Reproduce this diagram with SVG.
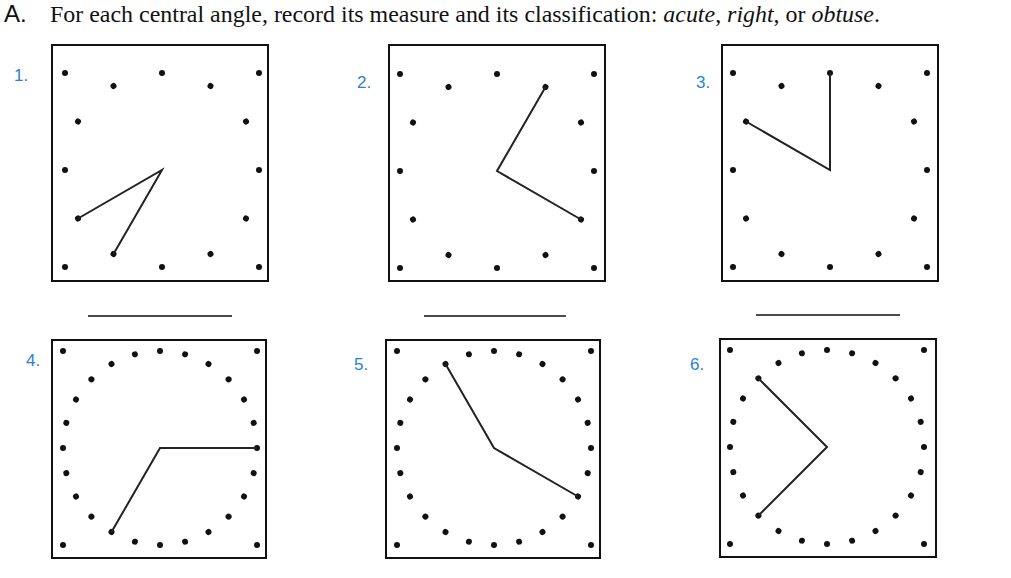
<svg xmlns="http://www.w3.org/2000/svg" xmlns:xlink="http://www.w3.org/1999/xlink" width="1011" height="578" viewBox="0 0 1011 578">
<style>
.box{fill:none;stroke:#111;stroke-width:2}
.arm{fill:none;stroke:#222;stroke-width:2}
.num{font-family:"Liberation Sans",Arial,sans-serif;font-size:17px;fill:#2a7fd4}
.t{font-family:"Liberation Serif","Times New Roman",serif;font-size:23px;fill:#111}
.ul{stroke:#111;stroke-width:1.5}
</style>
<defs>
<circle id="d" r="3" fill="#111"/>
<g id="c12">
<use xlink:href="#d" transform="rotate(0) translate(0,-97)"/><use xlink:href="#d" transform="rotate(30) translate(0,-97)"/><use xlink:href="#d" transform="rotate(60) translate(0,-97)"/><use xlink:href="#d" transform="rotate(90) translate(0,-97)"/><use xlink:href="#d" transform="rotate(120) translate(0,-97)"/><use xlink:href="#d" transform="rotate(150) translate(0,-97)"/><use xlink:href="#d" transform="rotate(180) translate(0,-97)"/><use xlink:href="#d" transform="rotate(210) translate(0,-97)"/><use xlink:href="#d" transform="rotate(240) translate(0,-97)"/><use xlink:href="#d" transform="rotate(270) translate(0,-97)"/><use xlink:href="#d" transform="rotate(300) translate(0,-97)"/><use xlink:href="#d" transform="rotate(330) translate(0,-97)"/>
<use xlink:href="#d" x="-97" y="-97"/><use xlink:href="#d" x="97" y="-97"/><use xlink:href="#d" x="-97" y="97"/><use xlink:href="#d" x="97" y="97"/>
</g>
<g id="c24">
<use xlink:href="#c12"/>
<use xlink:href="#d" transform="rotate(15) translate(0,-97)"/><use xlink:href="#d" transform="rotate(45) translate(0,-97)"/><use xlink:href="#d" transform="rotate(75) translate(0,-97)"/><use xlink:href="#d" transform="rotate(105) translate(0,-97)"/><use xlink:href="#d" transform="rotate(135) translate(0,-97)"/><use xlink:href="#d" transform="rotate(165) translate(0,-97)"/><use xlink:href="#d" transform="rotate(195) translate(0,-97)"/><use xlink:href="#d" transform="rotate(225) translate(0,-97)"/><use xlink:href="#d" transform="rotate(255) translate(0,-97)"/><use xlink:href="#d" transform="rotate(285) translate(0,-97)"/><use xlink:href="#d" transform="rotate(315) translate(0,-97)"/><use xlink:href="#d" transform="rotate(345) translate(0,-97)"/>
</g>
</defs>
<rect width="1011" height="578" fill="#fff"/>
<text x="4" y="22" font-family="'Liberation Sans',Arial,sans-serif" font-size="24" fill="#111">A.</text>
<text x="50" y="22" class="t" textLength="830" lengthAdjust="spacingAndGlyphs">For each central angle, record its measure and its classification: <tspan font-style="italic">acute</tspan>, <tspan font-style="italic">right</tspan>, or <tspan font-style="italic">obtuse</tspan>.</text>

<g id="n1" transform="translate(162,170)">
<rect class="box" x="-110" y="-125" width="216" height="236"/>
<use xlink:href="#c12"/>
<polyline class="arm" points="-84,48.5 0,0 -48.5,84"/>
</g>
<g id="n2" transform="translate(497,171)">
<rect class="box" x="-108" y="-126" width="216" height="236"/>
<use xlink:href="#c12"/>
<polyline class="arm" points="48.5,-84 0,0 84,48.5"/>
</g>
<g id="n3" transform="translate(830,170)">
<rect class="box" x="-108" y="-125" width="216" height="236"/>
<use xlink:href="#c12"/>
<polyline class="arm" points="0,-97 0,0 -84,-48.5"/>
</g>
<g id="n4" transform="translate(160,448)">
<rect class="box" x="-108" y="-108" width="214" height="218"/>
<use xlink:href="#c24"/>
<polyline class="arm" points="97,0 0,0 -48.5,84"/>
</g>
<g id="n5" transform="translate(494,448)">
<rect class="box" x="-108" y="-108" width="214" height="218"/>
<use xlink:href="#c24"/>
<polyline class="arm" points="-48.5,-84 0,0 84,48.5"/>
</g>
<g id="n6" transform="translate(827,447)">
<rect class="box" x="-107" y="-108" width="216" height="218"/>
<use xlink:href="#c24"/>
<polyline class="arm" points="-68.6,-68.6 0,0 -68.6,68.6"/>
</g>

<text class="num" x="14" y="81">1.</text>
<text class="num" x="357" y="88">2.</text>
<text class="num" x="696" y="88">3.</text>
<text class="num" x="26" y="366">4.</text>
<text class="num" x="354" y="370">5.</text>
<text class="num" x="690" y="370">6.</text>

<line class="ul" x1="88" y1="316" x2="232" y2="316"/>
<line class="ul" x1="424" y1="316" x2="566" y2="316"/>
<line class="ul" x1="756" y1="315" x2="900" y2="315"/>
</svg>
